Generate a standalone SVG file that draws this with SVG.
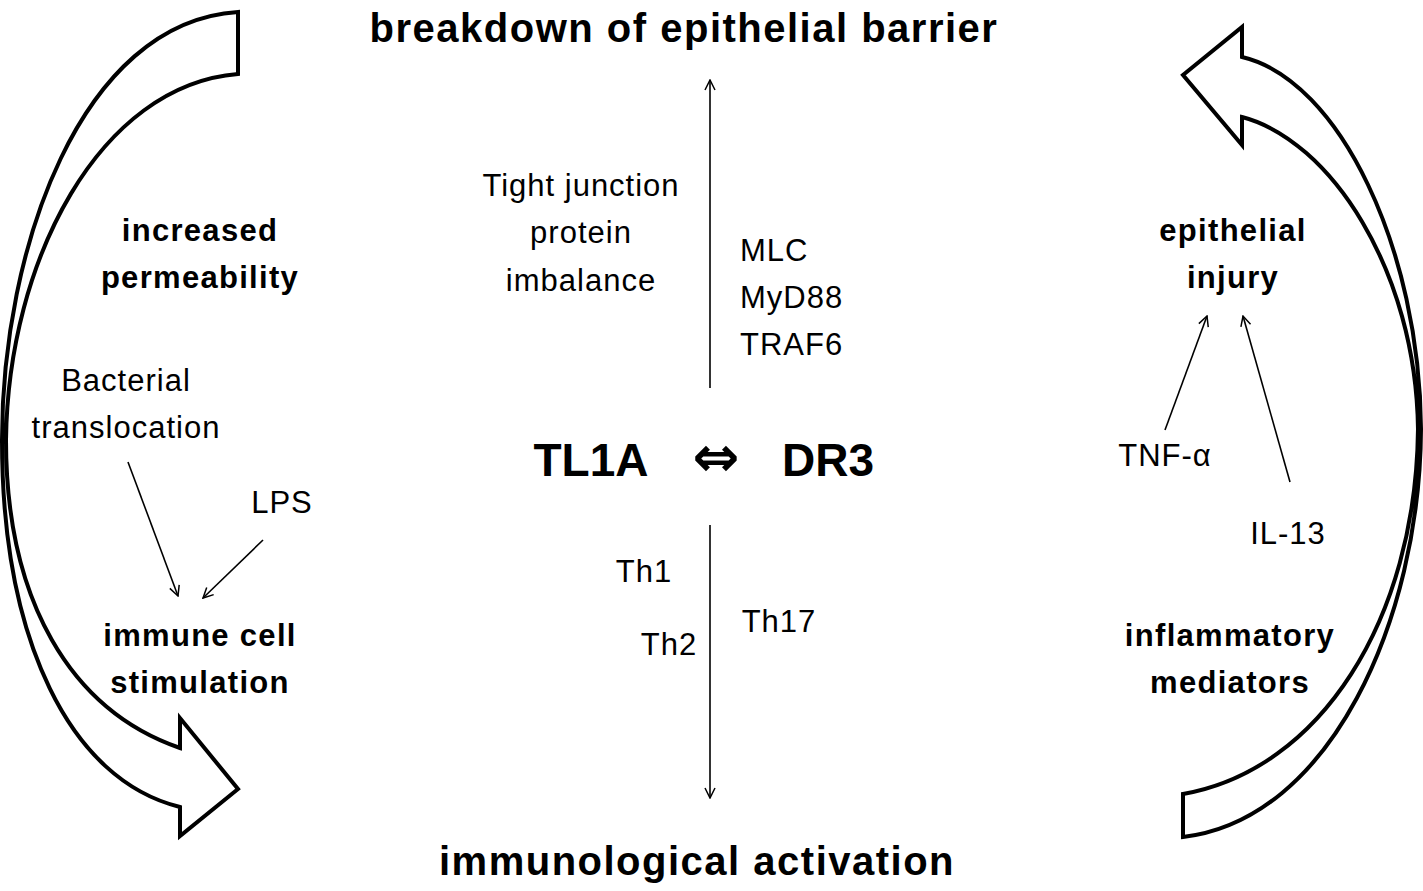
<svg xmlns="http://www.w3.org/2000/svg" width="1423" height="891" viewBox="0 0 1423 891">
<style>
text{font-family:"Liberation Sans",Arial,sans-serif;fill:#000;text-anchor:middle}
text.s{text-anchor:start}
.t{font-size:31px;letter-spacing:1px}
.b{font-size:31px;font-weight:bold;letter-spacing:1.3px}
.h{font-size:40px;font-weight:bold;letter-spacing:1.5px}
.big{font-size:46px;font-weight:bold}
.ln{stroke:#000;stroke-width:1.6;fill:none}
.cv{stroke:#000;stroke-width:4;fill:#fff;stroke-linejoin:miter}
</style>
<defs>
<marker id="a" viewBox="0 0 12 12" refX="11" refY="6" markerWidth="12" markerHeight="12" markerUnits="userSpaceOnUse" orient="auto"><path d="M1,1 L11,6 L1,11" fill="none" stroke="#000" stroke-width="1.5"/></marker>
</defs>
<g id="leftCycle">
<path class="cv" d="M238,12 L238,74 C100,85 8,260 6,440 C6,600 70,710 180,748 L180,718 L238,789 L180,836 L180,807 C70,780 2,640 2,440 C2,250 80,22 238,12 Z"/>
</g>
<g id="rightCycle">
<path class="cv" d="M1183,837 L1183,794 C1320,770 1416,620 1418,429 C1416,270 1330,140 1242,117 L1242,145 L1183,75 L1242,27 L1242,57 C1340,80 1420,250 1421,429 C1420,620 1330,820 1183,837 Z"/>
</g>
<g id="connectors">
<line class="ln" x1="710" y1="388" x2="710" y2="80" marker-end="url(#a)"/>
<line class="ln" x1="710" y1="525" x2="710" y2="798" marker-end="url(#a)"/>
<line class="ln" x1="128" y1="462" x2="178" y2="596" marker-end="url(#a)"/>
<line class="ln" x1="263" y1="540" x2="203" y2="598" marker-end="url(#a)"/>
<line class="ln" x1="1165" y1="430" x2="1207" y2="316" marker-end="url(#a)"/>
<line class="ln" x1="1290" y1="482" x2="1243" y2="316" marker-end="url(#a)"/>
</g>
<g id="title"><text class="h" x="684" y="42">breakdown of epithelial barrier</text></g>
<g id="bottom"><text class="h" x="697" y="875">immunological activation</text></g>
<g id="center">
<text class="big" x="591" y="476">TL1A</text>
<text x="716" y="476" style="font-family:'DejaVu Sans',sans-serif;font-size:56px;font-weight:bold">⇔</text>
<text class="big" x="828" y="476">DR3</text>
</g>
<g id="tj"><text class="t" x="581" y="196">Tight junction</text><text class="t" x="581" y="243">protein</text><text class="t" x="581" y="291">imbalance</text></g>
<g id="mlc"><text class="t s" x="740" y="261">MLC</text><text class="t s" x="740" y="308">MyD88</text><text class="t s" x="740" y="355">TRAF6</text></g>
<g id="th"><text class="t" x="644" y="582">Th1</text><text class="t" x="669" y="655">Th2</text><text class="t" x="779" y="632">Th17</text></g>
<g id="perm"><text class="b" x="200" y="241">increased</text><text class="b" x="200" y="288">permeability</text></g>
<g id="bact"><text class="t" x="126" y="391">Bacterial</text><text class="t" x="126" y="438">translocation</text></g>
<g id="lps"><text class="t" x="282" y="513">LPS</text></g>
<g id="immune"><text class="b" x="200" y="646">immune cell</text><text class="b" x="200" y="693">stimulation</text></g>
<g id="injury"><text class="b" x="1233" y="241">epithelial</text><text class="b" x="1233" y="288">injury</text></g>
<g id="tnf"><text class="t" x="1165" y="466">TNF-α</text></g>
<g id="il13"><text class="t" x="1288" y="544">IL-13</text></g>
<g id="infl"><text class="b" x="1230" y="646">inflammatory</text><text class="b" x="1230" y="693">mediators</text></g>
</svg>
